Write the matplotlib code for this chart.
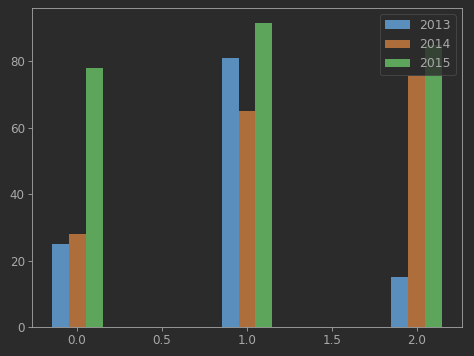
import matplotlib
matplotlib.use("Agg")
import matplotlib.pyplot as plt
import numpy as np

years = ["2013", "2014", "2015"]
x_positions = [0, 1, 2]
values_2013 = [25, 81, 15]
values_2014 = [28, 65, 75.5]
values_2015 = [78, 91.5, 85]
series = [values_2013, values_2014, values_2015]
colors = ["#5a8fbd", "#ad6e3b", "#5ea55c"]
offsets = [-0.1, 0.0, 0.1]

bg = "#2b2b2b"
fg = "#a9a9a9"

fig = plt.figure(figsize=(474 / 74, 356 / 74), dpi=74, facecolor=bg)
ax = fig.add_axes([32 / 474, 29 / 356, 430 / 474, 319 / 356])
ax.set_facecolor(bg)

x = np.array(x_positions, dtype=float)
for vals, c, off, lab in zip(series, colors, offsets, years):
    ax.bar(x + off, vals, width=0.1, color=c, label=lab)

for s in ax.spines.values():
    s.set_color(fg)
ax.tick_params(colors=fg, labelsize=11.5)
for t in ax.get_xticklabels() + ax.get_yticklabels():
    t.set_color(fg)

leg = ax.legend(loc="upper right", fontsize=12, facecolor="#2b2b2b", edgecolor="#4a4a4a", framealpha=0.8)
for t in leg.get_texts():
    t.set_color(fg)

fig.savefig("out.png", dpi=74, facecolor=bg)
